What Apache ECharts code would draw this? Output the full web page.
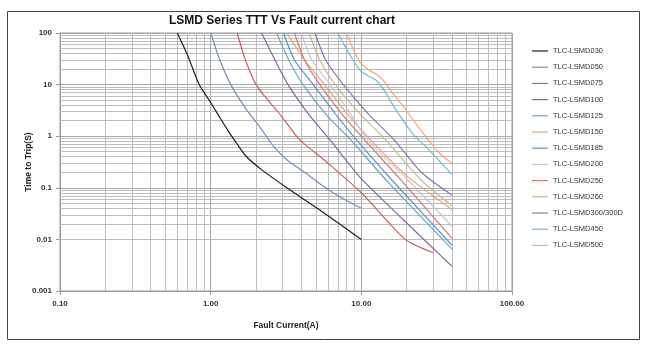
<!DOCTYPE html>
<html>
<head>
<meta charset="utf-8">
<script src="https://cdn.jsdelivr.net/npm/echarts@6/dist/echarts.min.js"></script>
<style>
  html, body { margin: 0; padding: 0; background: #fff; }
  #chart { width: 650px; height: 352px; }
</style>
</head>
<body>
<div id="chart"></div>
<script>
// series names, in legend order
const seriesNames = ['TLC-LSMD030', 'TLC-LSMD050', 'TLC-LSMD075', 'TLC-LSMD100', 'TLC-LSMD125',
  'TLC-LSMD150', 'TLC-LSMD185', 'TLC-LSMD200', 'TLC-LSMD250', 'TLC-LSMD260',
  'TLC-LSMD300/300D', 'TLC-LSMD450', 'TLC-LSMD500']

// fault current (A) / time to trip (s)
const current030 = [0.6, 0.7, 0.84, 1.0, 1.15, 1.3, 1.5, 1.73, 2.2, 3.2, 5.3, 10]
const time030 = [100, 38, 10, 4.5, 2.3, 1.3, 0.7, 0.4, 0.22, 0.1, 0.037, 0.01]
const current050 = [1.0, 1.15, 1.36, 1.7, 2.2, 2.6, 3.2, 4.2, 5.3, 7, 10]
const time050 = [100, 30, 10, 3.5, 1.3, 0.65, 0.35, 0.2, 0.12, 0.07, 0.04]
const current075 = [1.5, 1.7, 2.0, 2.4, 2.9, 3.4, 3.9, 6, 10, 15, 20, 30]
const time075 = [100, 30, 10, 5, 2.6, 1.4, 0.85, 0.3, 0.08, 0.022, 0.0095, 0.0055]
const current100 = [2.18, 2.6, 3.26, 4.5, 6.2, 10, 19, 40]
const time100 = [100, 35, 10, 2.6, 0.85, 0.15, 0.024, 0.003]
const current125 = [2.74, 3.3, 4.1, 6, 8.5, 15, 40]
const time125 = [100, 30, 10, 2.4, 0.85, 0.13, 0.0065]
const current150 = [3.2, 4.2, 5.7, 8, 11.5, 20, 40]
const time150 = [100, 30, 10, 2.8, 0.85, 0.17, 0.038]
const current185 = [3.05, 3.6, 4.8, 6.8, 9.3, 16, 40]
const time185 = [100, 30, 10, 2.6, 0.85, 0.14, 0.0077]
const current200 = [4.0, 4.7, 6.2, 8.3, 11, 20, 40]
const time200 = [100, 30, 10, 3, 0.85, 0.15, 0.018]
const current250 = [3.6, 4.2, 5.3, 7.5, 10.5, 18, 40]
const time250 = [100, 30, 10, 2.6, 0.85, 0.15, 0.0105]
const current260 = [4.5, 5.3, 6.7, 9.5, 14.5, 25, 40]
const time260 = [100, 30, 10, 3, 0.85, 0.14, 0.045]
const current300 = [4.93, 5.8, 7.6, 11, 16.5, 25, 40]
const time300 = [100, 30, 10, 2.8, 0.85, 0.2, 0.072]
const current450 = [7.0, 7.8, 8.8, 9.8, 11, 12.6, 14.5, 16.2, 19, 22, 28, 34, 40]
const time450 = [100, 55, 30, 19, 15, 12, 7, 4, 2, 1.1, 0.55, 0.3, 0.18]
const current500 = [8.0, 8.8, 9.8, 11, 12.5, 14, 16, 19, 22, 26, 30, 35, 40]
const time500 = [100, 50, 27, 20, 16, 12, 7, 3.8, 2.1, 1.1, 0.65, 0.4, 0.3]

// log grid: decades and the 2..9 minor lines inside each
const decadesX = [0.1, 1, 10]
const decadesY = [0.001, 0.01, 0.1, 1, 10]
const minorSteps = [2, 3, 4, 5, 6, 7, 8, 9]

const currents = [current030, current050, current075, current100, current125, current150,
  current185, current200, current250, current260, current300, current450, current500]
const times = [time030, time050, time075, time100, time125, time150,
  time185, time200, time250, time260, time300, time450, time500]
const colors = ['#1e1e1e', '#7090b8', '#c46460', '#7c6c9c', '#62a9c2', '#f0a06c',
  '#5e92c8', '#c6c6ce', '#cc7c7a', '#c9b98c', '#8a78a8', '#6cc0d4', '#f5a878']

const font = 'Liberation Sans, Arial, sans-serif'

const minorLines = []
decadesX.forEach(d => minorSteps.forEach(m => minorLines.push({ xAxis: +(d * m).toPrecision(3) })))
decadesY.forEach(d => minorSteps.forEach(m => minorLines.push({ yAxis: +(d * m).toPrecision(3) })))

const series = [{
  name: 'grid',
  type: 'line',
  data: [],
  silent: true,
  markLine: {
    silent: true,
    z: 1,
    symbol: ['none', 'none'],
    label: { show: false },
    lineStyle: { color: '#bcbcbc', width: 1, type: 'solid' },
    emphasis: { disabled: true },
    data: minorLines
  }
}]
seriesNames.forEach((name, k) => {
  series.push({
    name,
    type: 'line',
    z: 3,
    symbol: 'none',
    smooth: 0.25,
    lineStyle: { width: 1.2, color: colors[k] },
    itemStyle: { color: colors[k] },
    data: currents[k].map((c, i) => [c, times[k][i]])
  })
})

const chart = echarts.init(document.getElementById('chart'), null, { renderer: 'canvas' })
chart.setOption({
  animation: false,
  backgroundColor: '#fff',
  graphic: [
    {
      type: 'rect',
      shape: { x: 7.5, y: 11.5, width: 632, height: 328 },
      style: { fill: 'none', stroke: '#444', lineWidth: 1 },
      silent: true
    },
    {
      type: 'text',
      x: 282,
      y: 21,
      style: {
        text: 'LSMD Series TTT Vs Fault current chart',
        font: 'bold 12px ' + font,
        fill: '#111',
        align: 'center',
        verticalAlign: 'middle'
      }
    }
  ],
  legend: {
    data: seriesNames,
    orient: 'vertical',
    left: 527,
    top: 42,
    icon: 'rect',
    itemWidth: 16,
    itemHeight: 1.2,
    itemGap: 8.2,
    textStyle: { fontFamily: font, fontSize: 7.5, color: '#333' }
  },
  grid: {
    left: 60,
    right: 138,
    top: 33,
    bottom: 61,
    show: true,
    borderColor: '#999',
    borderWidth: 1
  },
  xAxis: {
    type: 'log',
    logBase: 10,
    min: 0.1,
    max: 100,
    name: 'Fault Current(A)',
    nameLocation: 'middle',
    nameGap: 30,
    nameMoveOverlap: false,
    nameTextStyle: { fontFamily: font, fontSize: 8.5, fontWeight: 'bold', color: '#222' },
    axisLine: { lineStyle: { color: '#999' } },
    axisTick: { show: true, length: 4, lineStyle: { color: '#999' } },
    axisLabel: {
      fontFamily: font, fontSize: 8, fontWeight: 'bold', color: '#333', margin: 9,
      formatter: v => v.toFixed(2)
    },
    splitLine: { show: true, lineStyle: { color: '#a6a6a6', width: 1 } }
  },
  yAxis: {
    type: 'log',
    logBase: 10,
    min: 0.001,
    max: 100,
    name: 'Time to Trip(S)',
    nameLocation: 'middle',
    nameGap: 27,
    nameMoveOverlap: false,
    nameTextStyle: { fontFamily: font, fontSize: 8.5, fontWeight: 'bold', color: '#222' },
    axisLine: { lineStyle: { color: '#999' } },
    axisTick: { show: true, length: 4, lineStyle: { color: '#999' } },
    axisLabel: {
      fontFamily: font, fontSize: 8, fontWeight: 'bold', color: '#333', margin: 8,
      formatter: v => v >= 1 ? String(Math.round(v)) : String(+v.toPrecision(1))
    },
    splitLine: { show: true, lineStyle: { color: '#a6a6a6', width: 1 } }
  },
  series
})
</script>
</body>
</html>
